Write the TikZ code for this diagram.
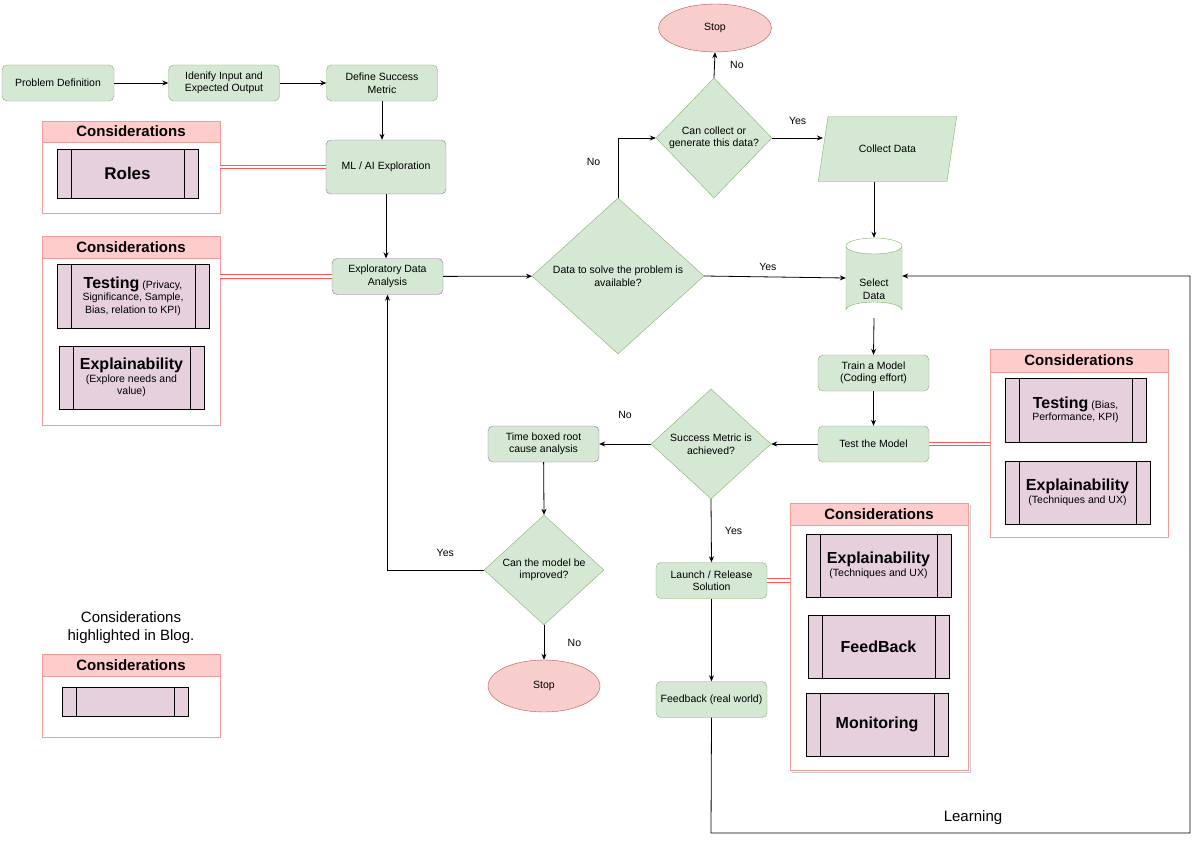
\documentclass[tikz,border=0pt]{standalone}
\usepackage{fontspec}
\setmainfont{Liberation Sans}
\usetikzlibrary{shapes.geometric,arrows.meta}
\definecolor{gfill}{HTML}{D5E8D4}\definecolor{gline}{HTML}{82B366}
\definecolor{pline}{HTML}{9673A6}\definecolor{rfill}{HTML}{F8CECC}
\definecolor{rline}{HTML}{B85450}\definecolor{cline}{HTML}{F19C99}
\definecolor{hfill}{HTML}{FFCCCC}\definecolor{sfill}{HTML}{E6D0DE}
\definecolor{dbl}{HTML}{FF5555}
\newcommand\bgt{\bfseries\fontsize{16}{18}\selectfont}
\tikzset{
 every node/.style={font=\fontsize{10.5}{12.5}\selectfont, align=center},
 proc/.style={rectangle, rounded corners=5pt, draw=gline, fill=gfill, minimum width=111pt, minimum height=36pt, inner sep=2pt},
 procp/.style={proc, draw=pline},
 dec/.style={diamond, draw=gline, fill=gfill, inner sep=0pt, aspect=#1},
 term/.style={ellipse, draw=rline, fill=rfill, minimum width=113pt, minimum height=48pt},
 sub/.style={rectangle, draw=black, fill=sfill, inner sep=2pt, path picture={
   \draw ([xshift=14pt]path picture bounding box.north west) -- ([xshift=14pt]path picture bounding box.south west);
   \draw ([xshift=-14pt]path picture bounding box.north east) -- ([xshift=-14pt]path picture bounding box.south east);}},
 hdr/.style={draw=cline, fill=hfill, font=\bfseries\fontsize{15}{17}\selectfont},
 cbox/.style={draw=cline},
 arr/.style={-{Stealth[length=6pt,width=5pt]}, line width=0.8pt},
 dl/.style={draw=dbl, double=white, double distance=2.5pt, line width=1pt},
 lbl/.style={font=\fontsize{10.5}{12.5}\selectfont}
}
\begin{document}
\begin{tikzpicture}[x=1pt,y=-1pt]
\useasboundingbox (0,0) rectangle (1200,843);
% considerations frames
\draw[cbox] (42,121) rectangle (220,213); \node[hdr, minimum width=178pt, minimum height=21pt, inner sep=0pt] (h1) at (131,131.5) {Considerations};
\draw[cbox] (42,236) rectangle (220,425); \node[hdr, minimum width=178pt, minimum height=22pt, inner sep=0pt] (h2) at (131,247) {Considerations};
\draw[cbox] (990,349) rectangle (1168,537); \node[hdr, minimum width=178pt, minimum height=23pt, inner sep=0pt] (h3) at (1079,360.5) {Considerations};
\draw[cbox, line width=0.8pt] (790,503) rectangle (968,770); \draw[gray!40] (792,772) -- (970,772) -- (970,505);
\node[hdr, minimum width=178pt, minimum height=22pt, inner sep=0pt] (h4) at (879,514) {Considerations};
\draw[cbox] (42,654) rectangle (220,737); \node[hdr, minimum width=178pt, minimum height=22pt, inner sep=0pt] (h5) at (131,665) {Considerations};
\node[font=\fontsize{15}{18}\selectfont] (legtxt) at (131,628) {Considerations\\highlighted in Blog.};
% subroutine boxes
\node[sub, minimum width=141pt, minimum height=49pt] (roles) at (127.5,173.5) {\fontsize{17}{19}\selectfont\bfseries Roles};
\node[sub, minimum width=152pt, minimum height=64pt] (test1) at (133,296) {{\bgt Testing} (Privacy,\\Significance, Sample,\\Bias, relation to KPI)};
\node[sub, minimum width=145pt, minimum height=63pt] (expl1) at (131.5,377.5) {{\bgt Explainability}\\(Explore needs and\\value)};
\node[sub, minimum width=141pt, minimum height=64pt] (test3) at (1075.5,410) {{\bgt Testing} (Bias,\\Performance, KPI)};
\node[sub, minimum width=145pt, minimum height=63pt] (expl3) at (1077.5,492.5) {{\bgt Explainability}\\(Techniques and UX)};
\node[sub, minimum width=145pt, minimum height=63pt] (expl4) at (878.5,565.5) {{\bgt Explainability}\\(Techniques and UX)};
\node[sub, minimum width=141pt, minimum height=63pt] (fb4) at (878.5,646.5) {\bgt FeedBack};
\node[sub, minimum width=142pt, minimum height=63pt] (mon4) at (877,724.5) {\bgt Monitoring};
\node[sub, minimum width=126pt, minimum height=29pt] (leg) at (125,701.5) {};
% process nodes
\node[proc, minimum width=112pt] (pd) at (58,83) {Problem Definition};
\node[proc] (ident) at (224,83) {Idenify Input and\\Expected Output};
\node[proc] (succ) at (382,83) {Define Success\\Metric};
\node[procp, minimum width=120pt, minimum height=54pt] (ml) at (386,167) {ML / AI  Exploration};
\node[procp] (eda) at (387.5,276.5) {Exploratory Data\\Analysis};
\node[dec=1.1, minimum width=172pt, minimum height=156pt] (avail) at (618,276) {Data to solve the problem is\\available?};
\node[dec=1, minimum width=116pt, minimum height=120pt] (collq) at (714,138) {Can collect  or\\generate this data?};
\node[term] (stop1) at (715,28) {Stop};
\node[trapezium, trapezium left angle=70, trapezium right angle=110, trapezium stretches=true, draw=gline, fill=gfill, minimum width=139pt, minimum height=65pt] (coll) at (887.5,149) {Collect Data};
% cylinder
\fill[gfill] (846,246) -- (846,310) arc[start angle=180,end angle=360,x radius=28,y radius=8] -- (902,246) arc[start angle=0,end angle=180,x radius=28,y radius=8];
\draw[gline] (846,246) -- (846,310) arc[start angle=180,end angle=360,x radius=28,y radius=8] -- (902,246);
\draw[gline] (874,246) ellipse[x radius=28,y radius=8];
\node[minimum width=56pt, minimum height=80pt] (sel) at (874,278) {};
\node at (874,289) {Select\\Data};
\node[proc] (train) at (873.5,373) {Train a Model\\(Coding effort)};
\node[proc] (testm) at (873.5,444) {Test  the Model};
\node[dec=1.1, minimum width=120pt, minimum height=110pt] (sm) at (711,444) {Success Metric is\\achieved?};
\node[procp] (tb) at (543.5,444) {Time boxed root\\cause analysis};
\node[dec=1.1, minimum width=120pt, minimum height=110pt] (imp) at (544,570) {Can  the model be\\improved?};
\node[term, minimum width=112pt, minimum height=52pt] (stop2) at (544,686) {Stop};
\node[proc] (launch) at (711.5,580.5) {Launch / Release\\Solution};
\node[proc] (fbw) at (711.5,699.5) {Feedback (real world)};
\node[font=\fontsize{15}{17}\selectfont] (learn) at (973,818) {Learning};
% connectors
\draw[arr] (pd) -- (ident);
\draw[arr] (ident) -- (succ);
\draw[arr] (succ) -- (succ|-ml.north);
\draw[arr] (ml) -- (ml|-eda.north);
\draw[arr] (eda) -- (avail);
\draw[arr] (avail.east) -- (sel.west) node[pos=0.45, above=3pt, lbl] {Yes};
\draw[arr] (avail.north) |- (collq.west) node[pos=0.3, left=14pt, lbl] {No};
\draw[arr] (collq.north) -- (stop1.south) node[midway, right=12pt, lbl] {No};
\draw[arr] (collq.east) -- (coll.west|-collq.east) node[midway, above=10pt, lbl] {Yes};
\draw[arr] (coll.south-|sel) -- (sel.north);
\draw[arr] (sel.south) -- (train.north);
\draw[arr] (train) -- (testm);
\draw[arr] (testm) -- (sm.east);
\draw[arr] (sm.west) -- (tb.east) node[midway, above=22pt, lbl] {No};
\draw[arr] (sm.south) -- (launch.north) node[midway, right=10pt, lbl] {Yes};
\draw[arr] (tb) -- (imp.north);
\draw[arr] (imp.west) -| (eda.south) node[pos=0.2, above=10pt, lbl] {Yes};
\draw[arr] (imp.south) -- (stop2.north) node[midway, right=20pt, lbl] {No};
\draw[arr] (launch) -- (fbw);
\coordinate (c1) at (711,833); \coordinate (c2) at (1190,833); \coordinate (c3) at (1190,276);
\draw[arr] (fbw.south) -- (c1) -- (c2) -- (c3) -- (sel.east|-c3);
% double links
\coordinate (k1) at (220,167); \coordinate (k2) at (220,276.5);
\coordinate (k3) at (990,444); \coordinate (k4) at (790,580.5);
\draw[dl] (k1) -- (ml.west);
\draw[dl] (k2) -- (eda.west);
\draw[dl] (testm.east) -- (k3);
\draw[dl] (launch.east) -- (k4);
\end{tikzpicture}
\end{document}
